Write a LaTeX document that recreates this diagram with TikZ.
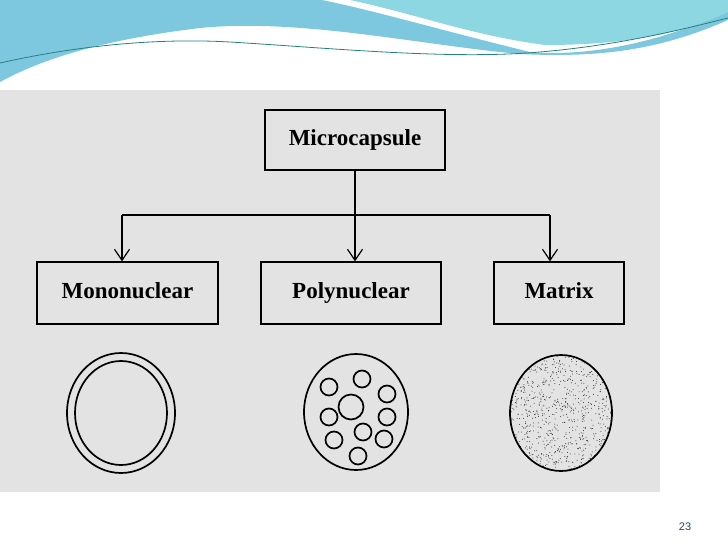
\documentclass[tikz,border=0pt]{standalone}
\usepackage{fontspec}
\setmainfont{Liberation Serif}
\setsansfont{Liberation Sans}
\usetikzlibrary{arrows.meta}
\definecolor{wave1}{RGB}{125,200,222}
\definecolor{wave2}{RGB}{140,215,225}
\definecolor{pgc}{RGB}{40,70,110}
\begin{document}
\begin{tikzpicture}[x=1pt,y=-1pt,
  box/.style={draw,line width=1.3pt,minimum height=60pt,text height=15pt,text depth=4pt,font=\bfseries\fontsize{23}{25}\selectfont},
  conn/.style={line width=1.2pt},
  arr/.style={conn,-{Straight Barb[length=11pt,width=15pt]}},
  ring/.style={line width=1.7pt}]
\useasboundingbox (0,0) rectangle (728,546);
\fill[white] (0,0) rectangle (728,546);
% top wave
\fill[wave1] (0,0) -- (322,0) .. controls (380,12) and (440,30) .. (530,52) .. controls (600,58) and (680,35) .. (728,10) -- (728,20) .. controls (660,50) and (600,58) .. (520,54) .. controls (420,45) and (300,18) .. (200,28) .. controls (100,40) and (40,60) .. (0,82) -- cycle;
\fill[wave2] (350,0) -- (728,0) -- (728,12) .. controls (680,35) and (620,45) .. (545,45) .. controls (470,35) and (420,15) .. (350,0) -- cycle;
\draw[teal!70!gray,line width=0.8pt] (0,63) .. controls (80,45) and (160,38) .. (230,42) .. controls (330,48) and (450,60) .. (540,52) .. controls (620,45) and (680,30) .. (728,18);
% panel
\fill[gray!22] (0,90) rectangle (660,492);
% boxes
\node[box,minimum width=180pt] (mc) at (355,140) {Microcapsule};
\node[box,minimum width=181pt,minimum height=62pt] (mono) at (127.5,293) {Mononuclear};
\node[box,minimum width=180pt,minimum height=62pt] (poly) at (351,293) {Polynuclear};
\node[box,minimum width=130pt,minimum height=62pt] (mat) at (559,293) {Matrix};
\coordinate (j) at (355,215);
\coordinate (jl) at (122,215);
\coordinate (jr) at (550,215);
\draw[conn] (mc.south) -- (j);
\draw[conn] (jl) -- (jr);
\draw[arr] (jl) -- (jl |- mono.north);
\draw[arr] (j) -- (j |- poly.north);
\draw[arr] (jr) -- (jr |- mat.north);
% mononuclear
\node[inner sep=0pt] (m1) at (121,413) {};
\draw[ring] (m1) ellipse [x radius=54,y radius=60];
\draw[ring] (m1) ellipse [x radius=46,y radius=52];
% polynuclear
\node[inner sep=0pt] (p1) at (356,412) {};
\draw[ring] (p1) ellipse [x radius=52,y radius=58];
\foreach \x/\y in {329/387,362/379,387/394,387/417,384/439,358/456,334/440,329/417,363/432}
  \draw[ring] (\x,\y) circle (8.5);
\draw[ring] (351,407) circle (12.5);
% matrix
\node[inner sep=0pt] (mx) at (561,413) {};
\begin{scope}
\clip (mx) ellipse [x radius=51,y radius=58];
\pgfmathsetseed{7}
\foreach \i in {1,...,900}
  \fill[black!80] (510+102*rnd,355+116*rnd) circle (0.5);
\end{scope}
\draw[ring] (mx) ellipse [x radius=51,y radius=58];
\node[font=\sffamily\fontsize{11}{12}\selectfont,text=pgc] (pg) at (685,527) {23};
\end{tikzpicture}
\end{document}
